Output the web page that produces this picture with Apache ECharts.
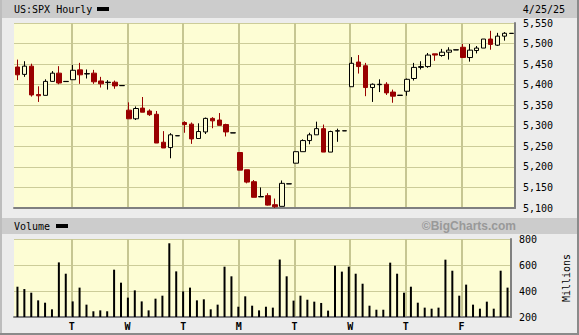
<!DOCTYPE html>
<html><head><meta charset="utf-8">
<script src="https://cdn.jsdelivr.net/npm/echarts@6/dist/echarts.min.js"></script>
<style>html,body{margin:0;padding:0;background:#ececec}#c{width:579px;height:335px}</style>
</head><body><div id="c"></div>
<script>
// ---- data ----
const symbolTitle = 'US:SPX Hourly';
const asOfDate = '4/25/25';
const volumeTitle = 'Volume';
const credit = '\u00A9BigCharts.com';
const volumeUnit = 'Millions';
const dates = ['4/14','4/15','4/16','4/17','4/21','4/22','4/23','4/24','4/25'];
const dayLetters = ['M','T','W','T','M','T','W','T','F'];
const hours = ['9:30','10:30','11:30','12:30','13:30','14:30','15:30','16:00'];
const opens = [
5443,5425,5445,5376,5374,5408,5428,5407.5,
5412,5436,5426,5428,5409,5405,5406,5397.5,
5338,5317,5343,5336,5328,5260,5247,5275.5,
5308,5304,5269,5285,5318,5314,5303,5282.5,
5235,5193,5164,5127,5130,5108,5104,5158.5,
5209,5237,5264,5278,5293,5236,5287,5287.5,
5395,5455,5446,5393,5400,5401,5382,5373.8,
5384,5415,5442,5444,5475,5471,5479,5484.3,
5491,5466,5483,5489,5511,5496,5518,5524.5];
const closes = [
5424,5445,5375,5373,5408,5428,5404,5408,
5435,5424,5427,5407,5402,5406,5397,5398,
5317,5342,5333,5327,5258,5246,5278,5276,
5303,5268,5286,5318,5312,5301,5285,5283,
5192,5163,5126,5128,5107,5103,5160,5159,
5237,5264,5278,5293,5236,5286,5288,5288,
5452,5444,5393,5401,5401,5380,5372,5374.5,
5413,5442,5444,5472,5472,5479,5484,5485,
5466,5484,5489,5511,5498,5518,5525,5525];
const lows = [
5411,5419,5371,5358,5374,5408,5401,5407.5,
5412,5402,5415,5402,5393,5388,5390,5397.5,
5317,5314,5333,5324,5258,5246,5221,5275.5,
5283,5256,5269,5280,5294,5301,5274,5282.5,
5192,5160,5126,5127,5106,5100,5104,5158.5,
5209,5237,5255,5278,5236,5236,5261,5287.5,
5395,5427,5372,5358,5382,5375,5356,5373.8,
5373,5410,5437,5441,5458,5468,5461,5484.3,
5466,5456,5476,5489,5485,5494,5507,5524.5];
const highs = [
5461,5457,5451,5396,5413,5433,5445,5408,
5448,5453,5437,5436,5419,5411,5410,5398,
5357,5347,5370,5340,5336,5287,5282,5276,
5311,5308,5306,5320,5321,5331,5305,5283,
5235,5193,5168,5150,5136,5123,5167,5159,
5237,5267,5283,5310,5303,5288,5293,5288,
5467,5472,5453,5403,5413,5406,5388,5374.5,
5415,5453,5457,5477,5475,5487,5491,5485,
5499,5499,5494,5511,5531,5526,5528,5525];
const volumes = [
433,415,387,328,310,259,620,533,
320,426,295,244,251,244,564,464,
349,405,320,251,341,364,767,551,
397,426,328,336,259,295,587,513,
279,359,287,251,279,272,642,513,
326,364,333,318,308,249,595,549,
587,533,456,287,256,256,618,533,
387,433,310,272,264,272,641,556,
364,449,295,264,318,264,556,426];
const priceMin = 5100, priceMax = 5550, priceStep = 50;
const volMin = 200, volMax = 800, volStep = 200;

// ---- build ----
const categories = [];
dates.forEach(d => hours.forEach(h => categories.push(d + ' ' + h)));
const perDay = hours.length;
const nSlots = categories.length;
const candleData = opens.map((o, i) => [o, closes[i], lows[i], highs[i]]);

// ---- layout ----
const W = 579, H = 335;
const plotL = 14, plotR = 515;
const mainTop = 23, mainBot = 208;
const volTop = 239, volBot = 317;
const slot = (plotR - plotL) / nSlots;
const sepL = plotL + perDay * slot + 2.2;
const sepR = plotL + (nSlots - perDay) * slot + 2.2;
const bg = '#fdfdd4';
const gridCol = '#cccc99';
const sepCol = '#c6c692';
const shade = '#808080';
const mono = 'DejaVu Sans Mono';

const chart = echarts.init(document.getElementById('c'), null, {renderer: 'svg'});
const fmtComma = v => String(v).replace(/\B(?=(\d{3})+(?!\d))/g, ',');

const sepAxis = (gi, labels) => ({
  type: 'value', gridIndex: gi, min: perDay, max: nSlots - perDay, interval: perDay, z: 1,
  axisLine: {show: false}, axisTick: {show: false},
  axisLabel: labels ? {show: true, margin: 4, color: '#000', fontFamily: mono, fontSize: 10, fontWeight: 'bold',
    showMinLabel: true, showMaxLabel: true, formatter: v => dayLetters[v / perDay]} : {show: false},
  splitLine: {show: true, lineStyle: {color: sepCol, width: 2}}
});
const catAxis = gi => ({
  type: 'category', gridIndex: gi, data: categories, boundaryGap: true, z: 3,
  axisLine: {show: true, lineStyle: {color: shade, width: 2}},
  axisTick: {show: false}, axisLabel: {show: false}, splitLine: {show: false}
});

const option = {
  animation: false,
  backgroundColor: '#ececec',
  grid: [
    {left: plotL, right: W - plotR, top: mainTop, bottom: H - mainBot, show: true, backgroundColor: bg, borderWidth: 0},
    {left: plotL, right: W - plotR, top: volTop, bottom: H - volBot, show: true, backgroundColor: bg, borderWidth: 0},
    {left: sepL, right: W - sepR, top: mainTop, bottom: H - mainBot},
    {left: sepL, right: W - sepR, top: volTop, bottom: H - volBot}
  ],
  xAxis: [catAxis(0), catAxis(1), sepAxis(2, false), sepAxis(3, true)],
  yAxis: [
    {type: 'value', gridIndex: 0, position: 'right', min: priceMin, max: priceMax, interval: priceStep, z: 1,
     axisLine: {show: true, lineStyle: {color: shade, width: 2}}, axisTick: {show: false},
     axisLabel: {margin: 8, color: '#000', fontFamily: mono, fontSize: 10, formatter: fmtComma},
     splitLine: {show: true, lineStyle: {color: gridCol, width: 1}}},
    {type: 'value', gridIndex: 1, position: 'right', min: volMin, max: volMax, interval: volStep, z: 1,
     name: volumeUnit, nameLocation: 'middle', nameRotate: 90, nameGap: 50,
     nameTextStyle: {color: '#000', fontFamily: mono, fontSize: 10},
     axisLine: {show: true, lineStyle: {color: shade, width: 2}}, axisTick: {show: false},
     axisLabel: {margin: 8, color: '#000', fontFamily: mono, fontSize: 10},
     splitLine: {show: true, lineStyle: {color: gridCol, width: 1}}},
    {type: 'value', gridIndex: 2, show: false, min: 0, max: 1},
    {type: 'value', gridIndex: 3, show: false, min: 0, max: 1}
  ],
  series: [
    {type: 'candlestick', name: symbolTitle, xAxisIndex: 0, yAxisIndex: 0, data: candleData, barWidth: 5, z: 5,
     itemStyle: {color: bg, color0: '#990000', borderColor: '#000', borderColor0: '#990000', borderWidth: 1}},
    {type: 'bar', name: volumeTitle, xAxisIndex: 1, yAxisIndex: 1, data: volumes, barWidth: 2, clip: true, z: 5,
     itemStyle: {color: '#000'}}
  ],
  graphic: [
    {type: 'rect', shape: {x: 2, y: 0, width: W - 4, height: 18}, style: {fill: '#cccccc'}, silent: true},
    {type: 'rect', shape: {x: 2, y: 218, width: W - 4, height: 16}, style: {fill: '#cccccc'}, silent: true},
    {type: 'rect', shape: {x: 0, y: 0, width: 2, height: H}, style: {fill: '#bdbdbd'}, silent: true},
    {type: 'rect', shape: {x: W - 2, y: 0, width: 2, height: H}, style: {fill: '#8a8a8a'}, silent: true},
    {type: 'rect', shape: {x: 0, y: H - 2, width: W, height: 2}, style: {fill: '#8a8a8a'}, silent: true},
    {type: 'text', x: 14, y: 9.5, style: {text: symbolTitle, font: '10px "DejaVu Sans Mono"', fill: '#000',
      align: 'left', verticalAlign: 'middle', textAlign: 'left', textVerticalAlign: 'middle'}, silent: true},
    {type: 'rect', shape: {x: 97, y: 7, width: 12, height: 4}, style: {fill: '#000'}, silent: true},
    {type: 'text', x: 565, y: 9.5, style: {text: asOfDate, font: '10px "DejaVu Sans Mono"', fill: '#000',
      align: 'right', verticalAlign: 'middle', textAlign: 'right', textVerticalAlign: 'middle'}, silent: true},
    {type: 'text', x: 14, y: 226, style: {text: volumeTitle, font: '10px "DejaVu Sans Mono"', fill: '#000',
      align: 'left', verticalAlign: 'middle', textAlign: 'left', textVerticalAlign: 'middle'}, silent: true},
    {type: 'rect', shape: {x: 56, y: 224, width: 12, height: 4}, style: {fill: '#000'}, silent: true},
    {type: 'text', x: 516, y: 225.5, style: {text: credit, font: 'bold 12px "Liberation Sans"', fill: '#999999',
      align: 'right', verticalAlign: 'middle', textAlign: 'right', textVerticalAlign: 'middle'}, silent: true}
  ]
};
chart.setOption(option);
</script></body></html>
